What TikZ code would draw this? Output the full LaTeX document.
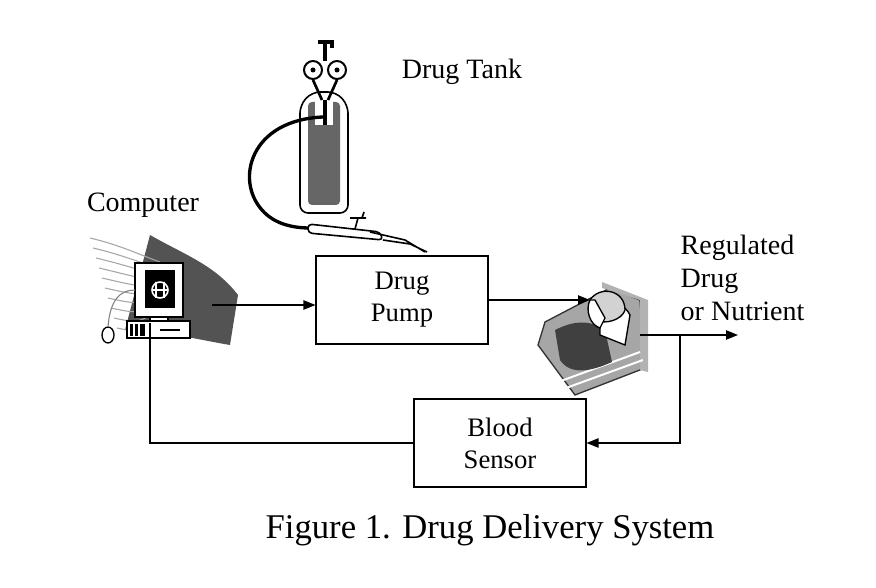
\documentclass[tikz,border=0pt]{standalone}
\usepackage{fontspec}
\setmainfont{Liberation Serif}
\usetikzlibrary{arrows.meta}
\begin{document}
\begin{tikzpicture}[x=0.75pt,y=-0.75pt,
  box/.style={draw,line width=0.8pt,minimum width=129pt,minimum height=66pt,align=center,font=\fontsize{20}{24}\selectfont},
  lbl/.style={font=\fontsize{21}{25}\selectfont,align=left},
  arr/.style={line width=1pt,-{Triangle[length=9pt,width=7pt]}},
  ln/.style={line width=1pt}]
\useasboundingbox (0,0) rectangle (876,588);
% drug tank
\draw[line width=1.2pt,rounded corners=6pt,fill=white] (300,213) -- (300,105) -- (312,92) -- (336,92) -- (348,105) -- (348,213) -- cycle;
\fill[gray!80!black,rounded corners=3pt] (308,205) rectangle (340,102);
\fill[white] (315,100) rectangle (333,125);
\draw[line width=2pt] (313,80) -- (322,100) (337,80) -- (328,100);
\draw[line width=2.5pt] (325,100) -- (325,125);
\draw[line width=1.5pt,fill=white] (313,70) circle (9) (337,70) circle (9);
\fill (313,70) circle (2.5) (337,70) circle (2.5);
\draw[line width=3pt] (325,61) -- (325,42);
\draw[line width=2.5pt] (318,42) -- (332,42) -- (332,48);
\draw[line width=2.5pt] (323,117) .. controls (250,120) and (235,180) .. (262,210) .. controls (275,225) and (295,228) .. (310,228);
\draw[line width=1.2pt,fill=white,rounded corners=3pt] (308,224) -- (380,232) -- (383,240) -- (308,233) -- cycle;
\draw[line width=1.2pt] (370,232) -- (405,240) -- (425,252) (383,240) -- (410,244) -- (427,252);
\draw[line width=1.2pt] (355,229) -- (358,218) (350,218) -- (366,218) (362,218) -- (364,212);
\node[lbl] (tank) at (462,72) {Drug Tank};
% computer
\fill[gray!65!black] (150,235) .. controls (185,255) and (215,265) .. (238,295) -- (230,345) .. controls (200,340) and (160,330) .. (125,330) -- cycle;
\foreach \i in {0,...,9}{
  \draw[gray!70,line width=0.8pt] (90+3*\i,238+10*\i) .. controls (120+3*\i,245+10*\i) and (140,255+8*\i) .. (160,262+6*\i);
}
\draw[line width=1.5pt,fill=white] (135,263) rectangle (183,317);
\fill (145,270) rectangle (175,308);
\draw[white,line width=1.2pt] (160,290) circle (8) (156,282) -- (156,298) (164,282) -- (164,298) (152,290) -- (168,290);
\draw[line width=1.2pt,fill=white] (150,317) rectangle (168,322);
\draw[line width=1.2pt,fill=white] (127,321) rectangle (190,338);
\fill (130,324) rectangle (145,336);
\draw[white,line width=1pt] (134,324) -- (134,336) (139,324) -- (139,336);
\draw[line width=1.5pt] (160,330) -- (180,330);
\draw[line width=1pt,fill=white] (108,335) ellipse (6 and 8);
\draw[gray,line width=0.8pt] (108,327) .. controls (110,300) and (120,290) .. (135,290);
\node[lbl] (comp) at (143,205) {Computer};
\coordinate (cout) at (212,305);
\coordinate (cin) at (150,323);
% patient
\fill[gray!70] (545,322) -- (610,288) -- (640,300) -- (645,368) -- (575,395) -- (538,345) -- cycle;
\draw[gray!40!black,line width=1pt] (545,322) -- (610,288) -- (640,300) -- (645,368) -- (575,395) -- (538,345) -- cycle;
\fill[gray!60] (602,282) -- (648,300) -- (648,372) -- (640,370) -- (640,300) -- (602,288) -- cycle;
\draw[white,line width=1.5pt] (550,385) -- (640,352) (555,392) -- (643,360);
\fill[gray!50!black] (555,330) .. controls (575,320) and (590,320) .. (605,330) -- (612,362) .. controls (590,372) and (570,375) .. (560,360) -- cycle;
\draw[line width=1pt,fill=white] (600,312) .. controls (615,300) and (625,305) .. (630,315) -- (625,345) -- (600,335) -- cycle;
\draw[line width=1pt,fill=gray!35] (590,300) .. controls (600,285) and (625,290) .. (625,310) .. controls (622,320) and (605,325) .. (595,320) -- cycle;
\draw[line width=1pt,fill=white] (590,300) .. controls (585,310) and (590,325) .. (600,328) -- (605,318) -- (595,300) -- cycle;
% boxes
\node[box] (pump) at (402,300) {Drug\\Pump};
\node[box] (sensor) at (500,443) {Blood\\Sensor};
\coordinate (bed) at (590,300);
\coordinate (outs) at (640,335);
\coordinate (oute) at (738,335);
\coordinate (tap) at (680,335);
\draw[arr] (cout) -- (pump.west |- cout);
\draw[arr] (pump.east) -- (bed);
\draw[arr] (outs) -- (oute);
\draw[arr] (tap) |- (sensor.east);
\draw[ln] (sensor.west) -| (cin);
\node[lbl,anchor=north west] (reg) at (676,230) {Regulated\\Drug\\or Nutrient};
\node[font=\fontsize{26}{30}\selectfont] (cap) at (490,530) {Figure 1. Drug Delivery System};
\end{tikzpicture}
\end{document}
